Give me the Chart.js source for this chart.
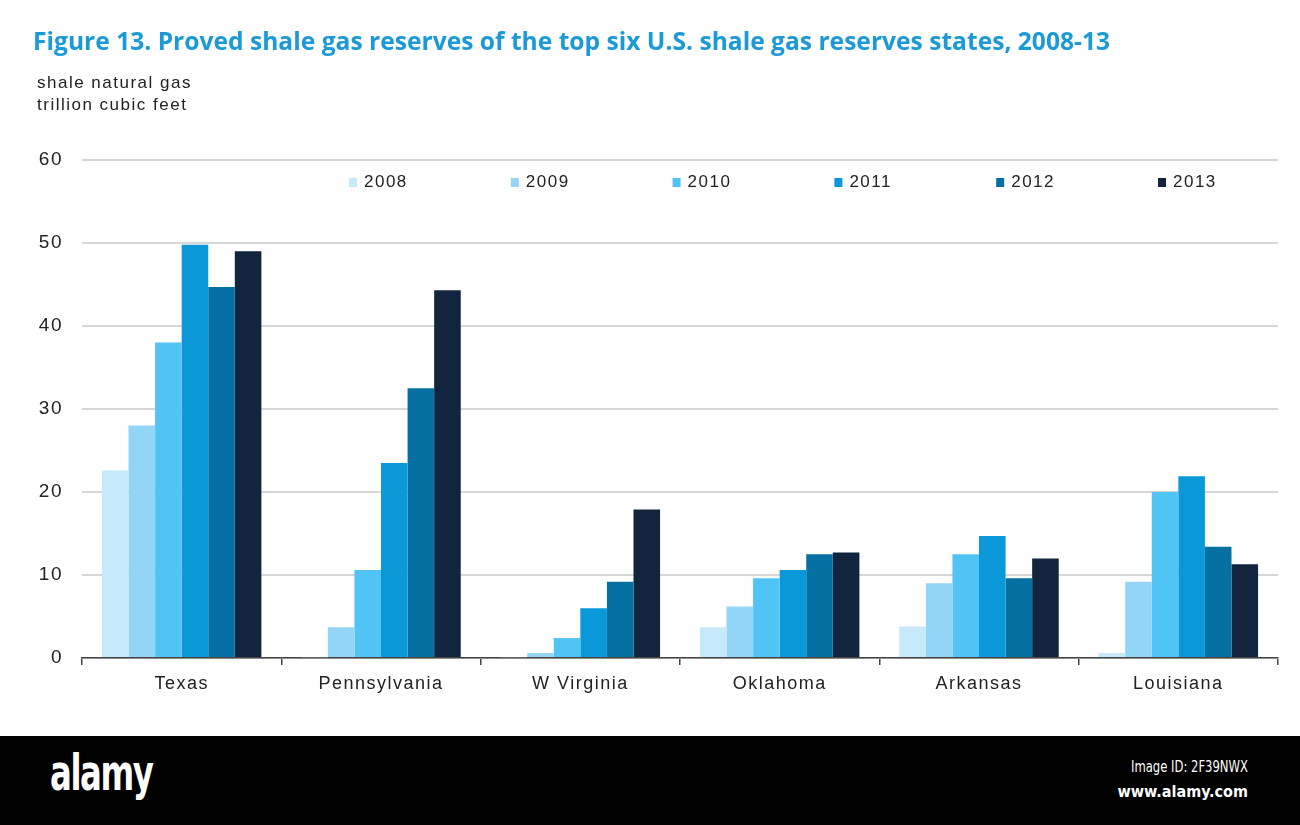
<!DOCTYPE html>
<html>
<head>
<meta charset="utf-8">
<script src="https://cdn.jsdelivr.net/npm/chart.js@4"></script>
<style>
  body { margin: 0; width: 1300px; height: 825px; background: #fff; position: relative; overflow: hidden; }
  #title { position: absolute; left: 33px; top: 24px; font-family: 'Open Sans', sans-serif; font-weight: bold; font-size: 24.6px; color: #1b9ad7; white-space: nowrap; }
  #units { position: absolute; left: 37px; top: 72px; font-family: 'Liberation Sans', Arial, sans-serif; font-size: 17px; letter-spacing: 1.5px; line-height: 22px; color: #222; }
  #wrap { position: absolute; left: 0; top: 0; width: 1300px; height: 735px; }
  #band { position: absolute; left: 0; top: 736px; width: 1300px; height: 89px; background: #000; color: #fff; }
  #logo { position: absolute; left: 50px; top: 8px; font-family: 'DejaVu Sans Condensed', sans-serif; font-weight: bold; font-size: 50px; letter-spacing: -2px; transform: scaleX(0.72); transform-origin: left top; }
  #imgid { position: absolute; right: 52px; top: 22px; font-family: 'DejaVu Sans Condensed', sans-serif; font-size: 15px; transform: scaleX(0.86); transform-origin: right top; }
  #site { position: absolute; right: 52px; top: 46px; font-family: 'DejaVu Sans Condensed', sans-serif; font-weight: bold; font-size: 16px; }
</style>
</head>
<body>
<div id="wrap"><canvas id="canvas"></canvas></div>
<div id="title">Figure 13. Proved shale gas reserves of the top six U.S. shale gas reserves states, 2008-13</div>
<div id="units">shale natural gas<br>trillion cubic feet</div>
<div id="band">
  <div id="logo">alamy</div>
  <div id="imgid">Image ID: 2F39NWX</div>
  <div id="site">www.alamy.com</div>
</div>
<script>
const states = ['Texas', 'Pennsylvania', 'W Virginia', 'Oklahoma', 'Arkansas', 'Louisiana'];
const years = ['2008', '2009', '2010', '2011', '2012', '2013'];
const colors = ['#c6e9fb', '#92d5f6', '#50c4f4', '#0b98d8', '#0670a3', '#13243f'];

// trillion cubic feet, per year, in the order of states
const v2008 = [22.6, 0.1, 0.1, 3.7, 3.8, 0.6];
const v2009 = [28.0, 3.7, 0.6, 6.2, 9.0, 9.2];
const v2010 = [38.0, 10.6, 2.4, 9.6, 12.5, 20.0];
const v2011 = [49.8, 23.5, 6.0, 10.6, 14.7, 21.9];
const v2012 = [44.7, 32.5, 9.2, 12.5, 9.6, 13.4];
const v2013 = [49.0, 44.3, 17.9, 12.7, 12.0, 11.3];
const values = [v2008, v2009, v2010, v2011, v2012, v2013];

const yTicks = [0, 10, 20, 30, 40, 50, 60];

const fontFamily = '"Liberation Sans", Arial, sans-serif';

// slightly spaced text, like the original
const spacing = {
    id: 'spacing',
    beforeDraw(chart) {
        chart.ctx.letterSpacing = '1.5px';
    }
};

// legend drawn as one row inside the top of the plot
const rowLegend = {
    id: 'rowLegend',
    afterDraw(chart) {
        const ctx = chart.ctx;
        const area = chart.chartArea;
        ctx.save();
        ctx.font = '17px ' + fontFamily;
        ctx.letterSpacing = '1.5px';
        ctx.textBaseline = 'middle';
        years.forEach(function (y, i) {
            const x = area.left + 267 + i * 161.8;
            const yy = area.top + 22;
            ctx.fillStyle = colors[i];
            ctx.fillRect(x, yy - 4, 8, 9);
            ctx.fillStyle = '#222';
            ctx.fillText(y, x + 15, yy);
        });
        ctx.restore();
    }
};

const data = {
    labels: states,
    datasets: years.map(function (y, i) {
        return {
            label: y,
            data: values[i],
            backgroundColor: colors[i],
            categoryPercentage: 0.8,
            barPercentage: 1.0,
        };
    }),
};

const config = {
    type: 'bar',
    data: data,
    plugins: [spacing, rowLegend],
    options: {
        responsive: false,
        animation: false,
        layout: { padding: { top: 160, right: 22, left: 0, bottom: 0 } },
        plugins: {
            legend: { display: false },
            tooltip: { enabled: false },
        },
        scales: {
            x: {
                grid: { offset: true, drawOnChartArea: false, tickLength: 7, color: '#444', lineWidth: 1.5 },
                border: { color: '#444', width: 1.5 },
                ticks: { color: '#222', font: { family: fontFamily, size: 18 }, padding: 8 },
                afterFit: function (axis) { axis.height = 77; },
            },
            y: {
                min: 0,
                max: 60,
                afterBuildTicks: function (axis) { axis.ticks = yTicks.map(function (v) { return { value: v }; }); },
                grid: { color: '#d6d6d6', lineWidth: 2, drawTicks: false },
                border: { display: false },
                ticks: { color: '#222', font: { family: fontFamily, size: 19 }, padding: 19 },
                afterFit: function (axis) { axis.width = 82; },
            },
        },
    },
};

const canvas = document.getElementById('canvas');
canvas.width = 1300;
canvas.height = 735;
const chart = new Chart(canvas, config);
</script>
</body>
</html>
